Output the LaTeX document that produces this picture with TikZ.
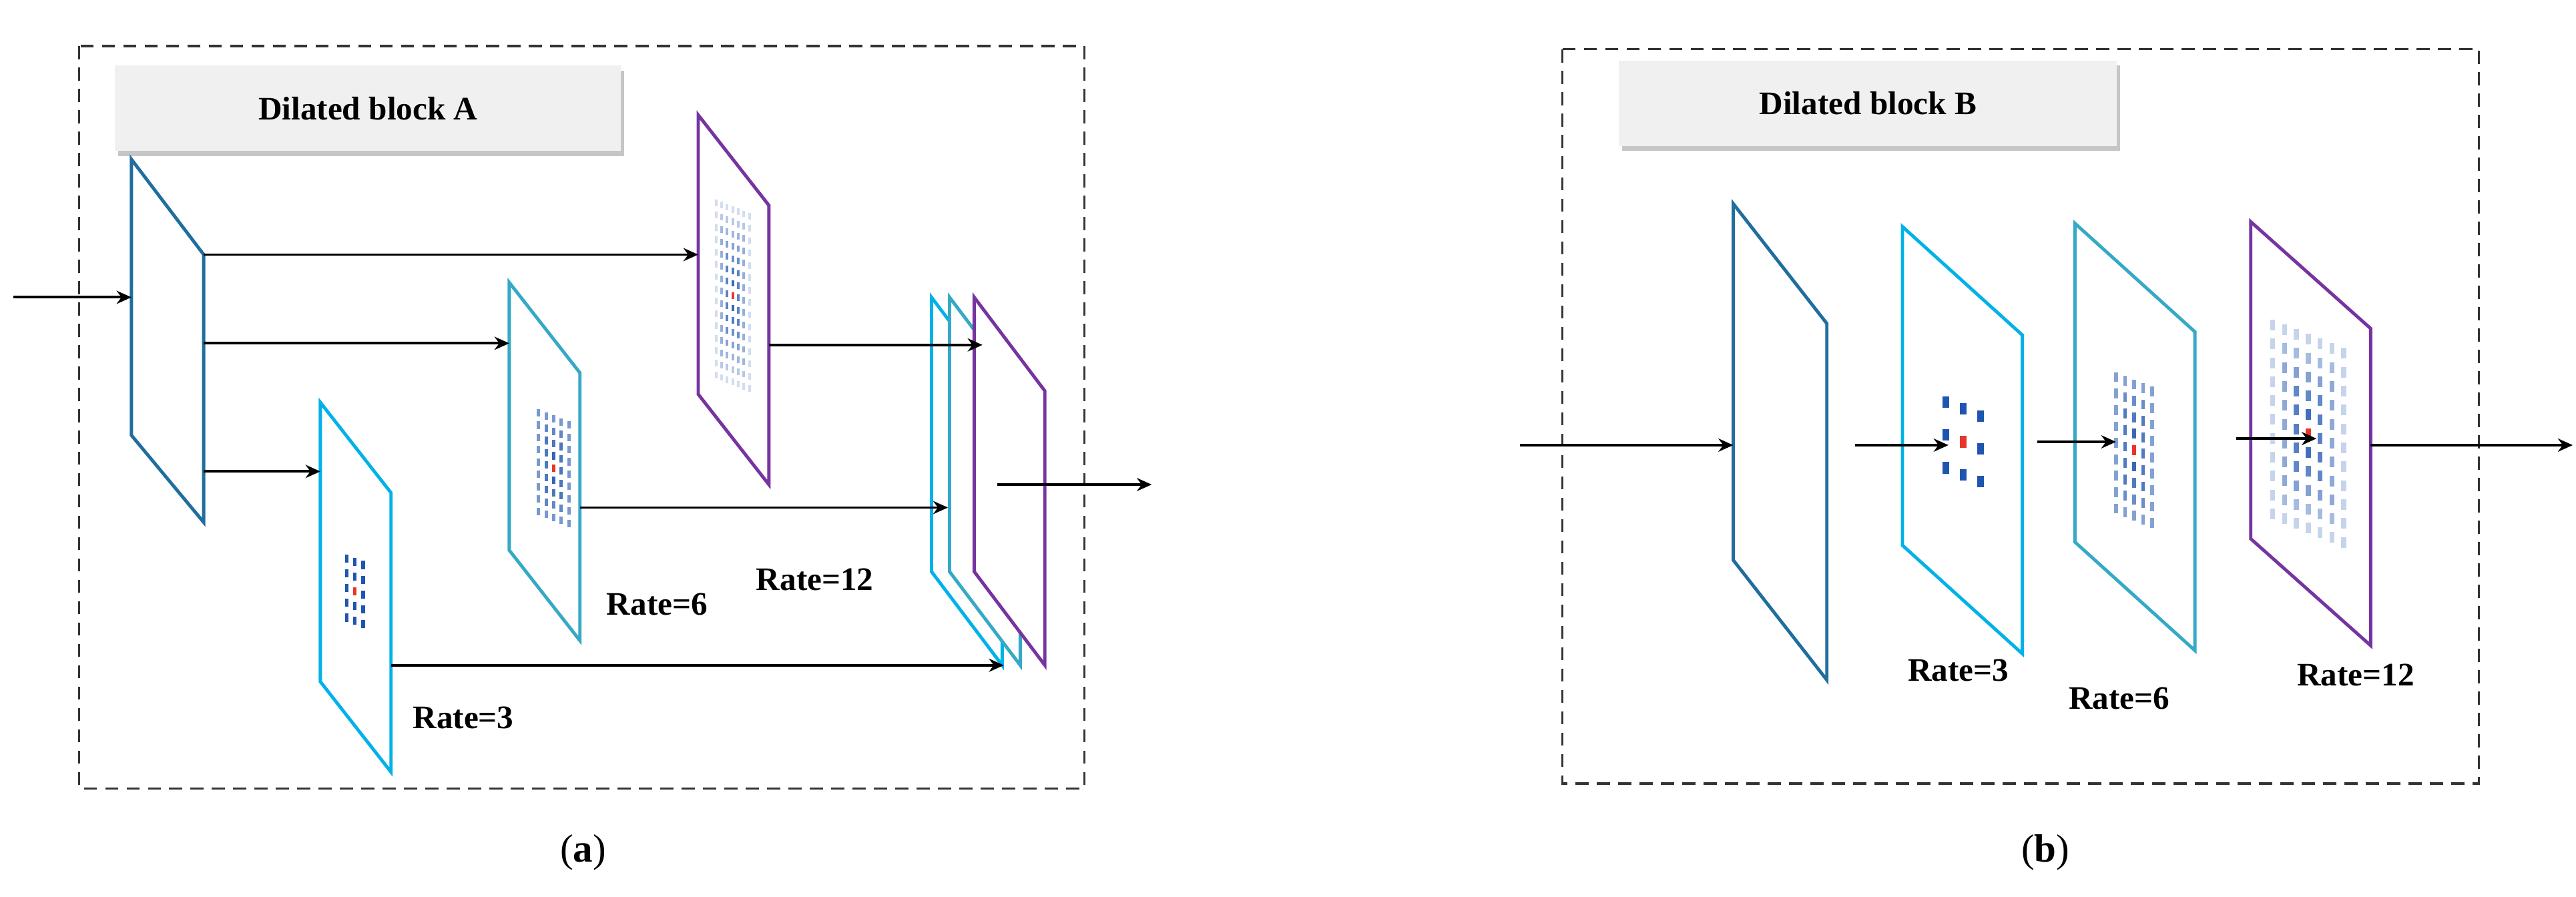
\documentclass[tikz,border=0pt]{standalone}
\usepackage{fontspec}
\setmainfont{Liberation Serif}
\usetikzlibrary{arrows.meta,shadows}
\definecolor{cdark}{HTML}{1F6E9E}
\definecolor{ccyan}{HTML}{00B2E8}
\definecolor{cteal}{HTML}{35A9C6}
\definecolor{cpurp}{HTML}{7634A0}
\definecolor{cdot}{HTML}{1F55B0}
\definecolor{cred}{HTML}{E8352A}
\newcommand\dgrid[9]{% cx cy imax jmax dx dy w h fade
  \foreach \i in {-#3,...,#3}{\foreach \j in {-#4,...,#4}{%
    \pgfmathsetmacro\dd{max(abs(\i)/max(#3,1),abs(\j)/max(#4,1))}%
    \pgfmathsetmacro\op{1-#9*\dd}%
    \fill[cdot,opacity=\op] ({#1+\i*#5-#7/2},{#2+\i*#5*0.4+\j*#6-#8/2}) rectangle ++(#7,#8);}}
  \fill[white] ({#1-#7/2-0.5},{#2-#8/2-0.5}) rectangle ++(#7+1,#8+1);
  \fill[cred] ({#1-#7/2},{#2-#8/2}) rectangle ++(#7,#8);}
\begin{document}
\begin{tikzpicture}[x=1pt,y=-1pt,
  plane/.style={line width=2pt,line join=miter,fill=white},
  arr/.style={-{Stealth[length=9pt,width=8pt]},line width=1.6pt},
  dbox/.style={draw=black!80,line width=1.3pt,dash pattern=on 8pt off 5pt},
  lbl/.style={fill=gray!12,minimum width=308pt,minimum height=52pt,drop shadow={shadow xshift=2pt,shadow yshift=-3pt,opacity=0.45},font=\bfseries\fontsize{20}{24}\selectfont},
  rate/.style={font=\bfseries\fontsize{20}{24}\selectfont}]
\useasboundingbox (0,0) rectangle (1568,546);
% ---------- panel a
\draw[dbox] (48,28) rectangle (660,480);
\node[lbl] (la) at (224,66) {Dilated block A};
\coordinate (ina) at (8,181);
\draw[plane,draw=cdark] (80,97) -- (124,155) -- (124,318) -- (80,265) -- cycle;
\coordinate (p1) at (80,181);
\draw[arr] (ina) -- (p1);
% rate 12
\draw[plane,draw=cpurp] (425,70) -- (468,125) -- (468,295) -- (425,240) -- cycle;
\dgrid{446}{180}{3}{7}{3.4}{7.5}{1.6}{4}{0.8}
% rate 6
\draw[plane,draw=cteal] (310,172) -- (353,227) -- (353,390) -- (310,335) -- cycle;
\dgrid{337}{285}{2}{4}{4.6}{7.5}{2}{4.5}{0.4}
% rate 3
\draw[plane,draw=ccyan] (195,245) -- (238,300) -- (238,470) -- (195,415) -- cycle;
\dgrid{216}{360}{1}{2}{5}{9}{2.2}{5}{0}
\coordinate (a12) at (425,155); \coordinate (a6) at (310,209); \coordinate (a3) at (195,287);
\draw[arr] (124,155) -- (a12);
\draw[arr] (124,209) -- (a6);
\draw[arr] (124,287) -- (a3);
% stack
\draw[plane,draw=ccyan] (567,181) -- (610,238) -- (610,405) -- (567,348) -- cycle;
\draw[plane,draw=cteal] (578,181) -- (621,238) -- (621,405) -- (578,348) -- cycle;
\draw[plane,draw=cpurp] (593,181) -- (636,238) -- (636,405) -- (593,348) -- cycle;
\coordinate (s12) at (598,210); \coordinate (s6) at (577,309); \coordinate (s3) at (611,405);
\draw[arr] (468,210) -- (s12);
\draw[arr] (353,309) -- (s6);
\draw[arr] (238,405) -- (s3);
\coordinate (outa) at (701,295);
\draw[arr] (607,295) -- (outa);
\node[rate] (r12a) at (496,353) {Rate=12};
\node[rate] (r6a) at (400,368) {Rate=6};
\node[rate] (r3a) at (282,437) {Rate=3};
\node[font=\fontsize{24}{28}\selectfont] (ca) at (355,519) {(\textbf{a})};
% ---------- panel b
\draw[dbox] (951,30) rectangle (1509,477);
\node[lbl,minimum width=303pt] (lb) at (1137,63) {Dilated block B};
\draw[plane,draw=cdark] (1055,124) -- (1112,197) -- (1112,414) -- (1055,341) -- cycle;
\draw[plane,draw=ccyan] (1158,138) -- (1231,204) -- (1231,398) -- (1158,332) -- cycle;
\dgrid{1195}{269}{1}{1}{10.5}{20}{4}{7}{0}
\draw[plane,draw=cteal] (1263,136) -- (1336,202) -- (1336,396) -- (1263,330) -- cycle;
\dgrid{1299}{274}{2}{4}{5.5}{10}{2.2}{6}{0.45}
\draw[plane,draw=cpurp] (1370,135) -- (1443,200) -- (1443,393) -- (1370,328) -- cycle;
\dgrid{1405}{264}{3}{5}{7.2}{11.5}{3}{6.5}{0.75}
\coordinate (inb) at (925,271); \coordinate (b1) at (1055,271);
\draw[arr] (inb) -- (b1);
\coordinate (b3) at (1186,271); \draw[arr] (1129,271) -- (b3);
\coordinate (b6) at (1288,269); \draw[arr] (1240,269) -- (b6);
\coordinate (b12) at (1410,267); \draw[arr] (1361,267) -- (b12);
\coordinate (outb) at (1566,271); \draw[arr] (1443,271) -- (outb);
\node[rate] (r3b) at (1192,408) {Rate=3};
\node[rate] (r6b) at (1290,425) {Rate=6};
\node[rate] (r12b) at (1434,411) {Rate=12};
\node[font=\fontsize{24}{28}\selectfont] (cb) at (1245,519) {(\textbf{b})};
\end{tikzpicture}
\end{document}
